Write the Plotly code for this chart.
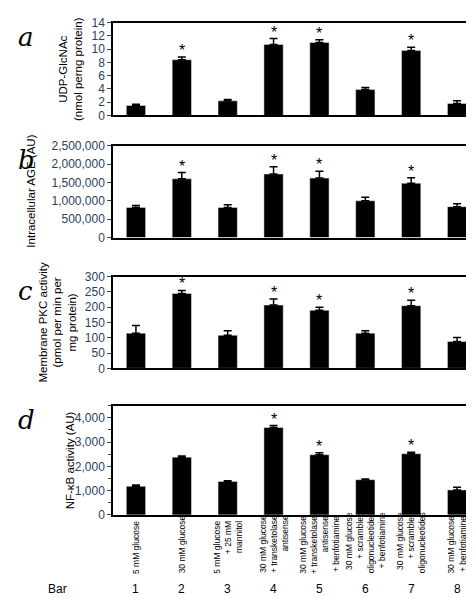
import plotly.graph_objects as go

bars = [1, 2, 3, 4, 5, 6, 7, 8]
labels = ["5 mM glucose", "30 mM glucose", "5 mM glucose<br>+ 25 mM<br>mannitol",
          "30 mM glucose<br>+ transketolase<br>antisense",
          "30 mM glucose<br>+ transketolase<br>antisense<br>+ benfotiamine",
          "30 mM glucose<br>+ scrambled<br>oligonucleotides<br>+ benfotiamine",
          "30 mM glucose<br>+ scrambled<br>oligonucleotides",
          "30 mM glucose<br>+ benfotiamine"]
a_val = [1.5, 8.4, 2.2, 10.7, 11.0, 3.9, 9.8, 1.8]
a_err = [0.2, 0.4, 0.2, 0.9, 0.4, 0.3, 0.5, 0.4]
b_val = [820000, 1600000, 820000, 1730000, 1620000, 1000000, 1480000, 840000]
b_err = [50000, 170000, 70000, 200000, 190000, 100000, 150000, 80000]
c_val = [115, 245, 108, 207, 190, 115, 205, 88]
c_err = [25, 10, 15, 20, 10, 8, 18, 13]
d_val = [1180, 2380, 1380, 3600, 2480, 1450, 2520, 1030]
d_err = [50, 50, 30, 80, 80, 30, 60, 110]
stars_abc = [2, 4, 5, 7]
stars_d = [4, 5, 7]

panels = [
    ("a", a_val, a_err, stars_abc, [0, 14], 2, None, "UDP-GlcNAc<br>(nmol perng protein)", (0.828, 0.987), 62, 8),
    ("b", b_val, b_err, stars_abc, [0, 2500000], 500000, ",", "Intracellular AGE (AU)", (0.619, 0.776), 23, 8),
    ("c", c_val, c_err, stars_abc, [0, 300], 50, None, "Membrane PKC activity<br>(pmol per min per<br>mg protein)", (0.395, 0.552), 50, 8),
    ("d", d_val, d_err, stars_d, [0, 4500], 1000, ",", "NF-κB activity (AU)", (0.144, 0.331), 62, 8),
]

L, W = 105, 367
def px(x):
    return (x - L) / W

fig = go.Figure()
font = "Liberation Sans"
for i, (letter, val, err, stars, rng, dt, fmt, title, dom, tx, lx) in enumerate(panels):
    n = "" if i == 0 else str(i + 1)
    fig.add_trace(go.Bar(x=bars, y=val, width=0.42, marker_color="black",
                         error_y=dict(type="data", array=err, symmetric=False, arrayminus=[0]*8,
                                      color="black", thickness=1.5, width=4),
                         xaxis="x" + n, yaxis="y" + n, showlegend=False))
    fig.layout["xaxis" + n] = dict(range=[0.5, 8.5], domain=[0, 1], anchor="y" + n,
                                   showticklabels=False, ticks="", showline=True, mirror=True,
                                   linecolor="black", linewidth=1.5, showgrid=False)
    fig.layout["yaxis" + n] = dict(range=rng, domain=list(dom), anchor="x" + n, dtick=dt,
                                   tickformat=fmt, ticks="outside", ticklen=4, showline=True,
                                   mirror=True, linecolor="black", linewidth=1.5, showgrid=False,
                                   tickfont=dict(size=12, family=font),
                                   minor=dict(ticks="outside", ticklen=3, dtick=dt/2) if letter == "d" else None)
    for s in stars:
        fig.add_annotation(x=s, y=val[s-1] + err[s-1], xref="x" + n, yref="y" + n, text="*",
                           showarrow=False, yanchor="bottom", yshift=-4,
                           font=dict(size=16, family=font, color="black"))
    fig.add_annotation(x=px(lx), xref="paper", y=dom[1] + 0.005, yref="paper", text="<i>" + letter + "</i>",
                       showarrow=False, xanchor="left", yanchor="top",
                       font=dict(size=26, family="DejaVu Serif", color="black"))
    fig.add_annotation(x=px(tx), xref="paper", y=(dom[0] + dom[1]) / 2, yref="paper", text=title,
                       showarrow=False, textangle=-90, xanchor="center", yanchor="middle",
                       font=dict(size=11.5, family=font, color="black"))

for b, lab in zip(bars, labels):
    fig.add_annotation(x=b, xref="x4", y=1 - 574/598, yref="paper", text=lab, showarrow=False,
                       textangle=-90, xanchor="center", yanchor="bottom", align="right",
                       font=dict(size=8.5, family=font, color="black"))
    fig.add_annotation(x=b, xref="x4", y=1 - 588/598, yref="paper", text=str(b), showarrow=False,
                       xanchor="center", yanchor="middle", font=dict(size=12, family=font, color="black"))
fig.add_annotation(x=px(38), xref="paper", y=1 - 588/598, yref="paper", text="Bar", showarrow=False,
                   xanchor="left", yanchor="middle", font=dict(size=12, family=font, color="black"))

fig.update_layout(width=474, height=598, margin=dict(l=L, r=2, t=0, b=0),
                  plot_bgcolor="white", paper_bgcolor="white")
fig.write_html("out.html")
